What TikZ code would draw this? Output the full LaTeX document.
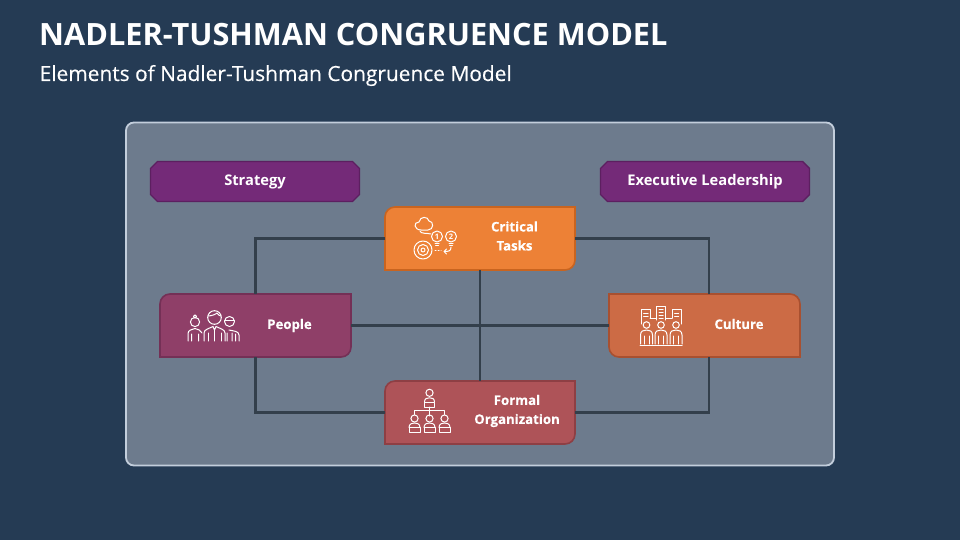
\documentclass[tikz,border=0pt]{standalone}
\usepackage{fontspec}
\setmainfont{Open Sans}
\definecolor{bgc}{HTML}{253B54}
\definecolor{panelc}{HTML}{6D7B8D}
\definecolor{panelb}{HTML}{C3CEDC}
\definecolor{stratc}{HTML}{742A78}
\definecolor{stratb}{HTML}{5C1F60}
\definecolor{critc}{HTML}{ED8136}
\definecolor{critb}{HTML}{C9641F}
\definecolor{peoc}{HTML}{8F3F68}
\definecolor{peob}{HTML}{743056}
\definecolor{culc}{HTML}{CC6B45}
\definecolor{culb}{HTML}{A85030}
\definecolor{forc}{HTML}{AE5358}
\definecolor{forb}{HTML}{8E3F44}
\definecolor{linec}{HTML}{333F4B}
\tikzset{
  anchorbox/.style={minimum width=#1,inner sep=0pt,outer sep=0pt,draw=none},
  lbl/.style={text=white,font=\fontsize{14.7}{19}\selectfont\bfseries,align=center,inner sep=0pt},
  boxlbl/.style={text=white,font=\fontsize{13.2}{19}\selectfont\bfseries\addfontfeature{FakeBold=0.3},align=center,inner sep=0pt},
  conn/.style={draw=linec,line width=2.1pt},
  icon/.style={draw=white,line width=1pt,line cap=round,line join=round},
}
\newcommand{\cutbox}[7]{% name, cx, cy, w, h, fill, border
  \node[anchorbox=#4,minimum height=#5] (#1) at (#2,#3) {};
  \draw[fill=#6,draw=#7,line width=1.4pt]
    ([xshift=7]#1.north west) -- ([xshift=-7]#1.north east) -- ([yshift=-7]#1.north east)
    -- ([yshift=7]#1.south east) -- ([xshift=-7]#1.south east) -- ([xshift=7]#1.south west)
    -- ([yshift=7]#1.south west) -- ([yshift=-7]#1.north west) -- cycle;}
% rounded top-left and bottom-right (y axis points down, so angles run clockwise on screen)
\newcommand{\tlbr}[7]{%
  \node[anchorbox=#4,minimum height=#5] (#1) at (#2,#3) {};
  \draw[fill=#6,draw=#7,line width=1.6pt]
    ([xshift=10]#1.north west) -- (#1.north east) -- ([yshift=10]#1.south east)
    arc[start angle=0,end angle=90,radius=10] -- (#1.south west) -- ([yshift=-10]#1.north west)
    arc[start angle=180,end angle=270,radius=10] -- cycle;}
% rounded top-right and bottom-left
\newcommand{\trbl}[7]{%
  \node[anchorbox=#4,minimum height=#5] (#1) at (#2,#3) {};
  \draw[fill=#6,draw=#7,line width=1.6pt]
    (#1.north west) -- ([xshift=-10]#1.north east)
    arc[start angle=270,end angle=360,radius=10] -- (#1.south east) -- ([xshift=10]#1.south west)
    arc[start angle=90,end angle=180,radius=10] -- cycle;}
\newcommand{\orgp}[2]{%
  \draw[icon] (#1,#2) circle[radius=3.6];
  \draw[icon] (#1-5.5,#2+9) .. controls (#1-5.5,#2+5) and (#1-2,#2+4.5) .. (#1,#2+4.5) .. controls (#1+2,#2+4.5) and (#1+5.5,#2+5) .. (#1+5.5,#2+9);
  \draw[icon] (#1-5.5,#2+9) rectangle (#1+5.5,#2+14);
}
\begin{document}
\begin{tikzpicture}[x=1pt,y=-1pt]
\useasboundingbox (0,0) rectangle (960,540);
\fill[bgc] (0,0) rectangle (960,540);
\node[anchor=base west,inner sep=0pt,text=white,font=\fontsize{30.7}{36}\selectfont\bfseries] (title) at (39,46) {NADLER-TUSHMAN CONGRUENCE MODEL};
\node[anchor=base west,inner sep=0pt,text=white,font=\fontsize{20.9}{24}\selectfont\addfontfeature{FakeBold=0.35}] (subtitle) at (39.5,81) {Elements of Nadler-Tushman Congruence Model};
\node[anchorbox=708,minimum height=343] (panel) at (480,294) {};
\draw[fill=panelc,draw=panelb,line width=1.8pt,rounded corners=8] (panel.north west) rectangle (panel.south east);

\cutbox{strategy}{255}{181.5}{209}{40}{stratc}{stratb}
\node[lbl] (strategyt) at (255,182) {Strategy};
\cutbox{exec}{705}{181.5}{209}{40}{stratc}{stratb}
\node[lbl] (exect) at (705,182) {Executive Leadership};

\tlbr{crit}{480}{238.5}{190}{63}{critc}{critb}
\tlbr{peop}{255.5}{325.5}{191}{63}{peoc}{peob}
\trbl{cult}{704.5}{325.5}{191}{63}{culc}{culb}
\tlbr{form}{480}{412.5}{190}{63}{forc}{forb}

\coordinate (tl) at (peop.north |- crit.west);
\coordinate (tr) at (709,238.5);
\coordinate (bl) at (peop.south |- form.west);
\coordinate (br) at (709,412.5);
\draw[conn] (crit.west) -- (tl) -- (peop.north);
\draw[conn] (crit.east) -- (tr) -- (tr |- cult.north);
\draw[conn] (peop.south) -- (bl) -- (form.west);
\draw[conn] (br |- cult.south) -- (br) -- (form.east);
\draw[conn] (peop.east) -- (cult.west);
\draw[conn] (crit.south) -- (form.north);

\node[boxlbl] (critt) at (514.5,236) {Critical\\Tasks};
\node[boxlbl] (peopt) at (289.5,325.5) {People};
\node[boxlbl] (cultt) at (739,324) {Culture};
\node[boxlbl] (formt) at (517,411) {Formal\\Organization};

% critical tasks icon
\draw[icon] (421,230) .. controls (414,230) and (413,222) .. (419,222) .. controls (420,216) and (428,216) .. (429,221) .. controls (434,221) and (434,230) .. (428,230) -- (421,230);
\draw[icon] (420,231) .. controls (420,234) and (428,233) .. (431,234);
\draw[icon] (437,236.5) circle[radius=5.5];
\draw[icon] (451,236.5) circle[radius=5.5];
\draw[icon] (435,243) -- (439,243) (435.5,245) -- (438.5,245);
\draw[icon] (449,243) -- (453,243) (449.5,245) -- (452.5,245);
\node[text=white,inner sep=0pt,font=\fontsize{7.5}{8}\selectfont\bfseries] (n1) at (437,236.5) {1};
\node[text=white,inner sep=0pt,font=\fontsize{7.5}{8}\selectfont\bfseries] (n2) at (451,236.5) {2};
\draw[icon] (423,250) circle[radius=9] (423,250) circle[radius=5.5] (423,250) circle[radius=2];
\draw[icon,dotted] (435,250) -- (441,250);
\draw[icon] (451,247) .. controls (451,251) and (449,251.5) .. (444,251.5) (446.5,249) -- (444,251.5) -- (446.5,254);

% people icon
\draw[icon] (195,322) circle[radius=4.6];
\draw[icon] (195,316.5) circle[radius=1.6];
\draw[icon] (188,341) -- (188,333.5) .. controls (188,330) and (192,329.5) .. (195,328.5) .. controls (198,329.5) and (201,330) .. (202,333) (191.5,341) -- (191.5,334) (198.5,341) -- (198.5,334);
\draw[icon] (214.5,317.5) circle[radius=6.8];
\draw[icon] (208,316) .. controls (212,316) and (216,314) .. (217,313) .. controls (218,315) and (220,316) .. (221,316);
\draw[icon] (204,341) -- (204,333) .. controls (204,329.5) and (209,328.5) .. (213,326.5) -- (214.5,330) -- (216,326.5) .. controls (220,328.5) and (225,329.5) .. (225,333) -- (225,341);
\draw[icon] (208,341) -- (208,333) (221,341) -- (221,333) (214.5,330) -- (214.5,341);
\draw[icon] (229.5,321.5) circle[radius=5];
\draw[icon] (224.7,320) -- (234.3,320);
\draw[icon] (227,341) -- (227,333) (232,341) -- (232,333) (229,330) .. controls (233,331) and (239,331) .. (239,335) -- (239,341) (235.5,341) -- (235.5,334);

% culture icon
\draw[icon] (641,324) -- (641,309.5) -- (650,309.5) -- (650,318);
\draw[icon] (643.5,313) -- (648,313) (643.5,316) -- (648,316);
\draw[icon] (656.5,320) -- (656.5,306) -- (665.5,306) -- (665.5,320);
\draw[icon] (659,309) -- (663,309) (659,312) -- (663,312) (659,315) -- (663,315) (659,318) -- (663,318);
\draw[icon] (672,318) -- (672,309.5) -- (681,309.5) -- (681,324);
\draw[icon] (674.5,313) -- (678.5,313) (674.5,316) -- (678.5,316);
\draw[icon] (650,318) -- (656.5,318) (665.5,318) -- (672,318);
\foreach \hx in {646.5,661,676}{
  \draw[icon] (\hx,325) circle[radius=3.3];
  \draw[icon] (\hx-6,344) -- (\hx-6,335) .. controls (\hx-6,331) and (\hx-3,330) .. (\hx,330) .. controls (\hx+3,330) and (\hx+6,331) .. (\hx+6,335) -- (\hx+6,344);
  \draw[icon] (\hx-2.5,344) -- (\hx-2.5,336) (\hx+2.5,344) -- (\hx+2.5,336);
}
\draw[icon] (640,345) -- (682,345);

% formal organization icon
\draw[icon] (429.5,392.8) circle[radius=3.6];
\draw[icon] (424.5,402) .. controls (424.5,398.5) and (427,397.8) .. (429.5,397.8) .. controls (432,397.8) and (434.5,398.5) .. (434.5,402);
\draw[icon] (424.5,402) rectangle (434.5,407);
\draw[icon] (429.5,407) -- (429.5,416) (414.5,414.5) -- (414.5,410.5) -- (444.5,410.5) -- (444.5,414.5);
\orgp{414.5}{418.5}
\orgp{429.5}{418.5}
\orgp{444.5}{418.5}
\end{tikzpicture}
\end{document}
